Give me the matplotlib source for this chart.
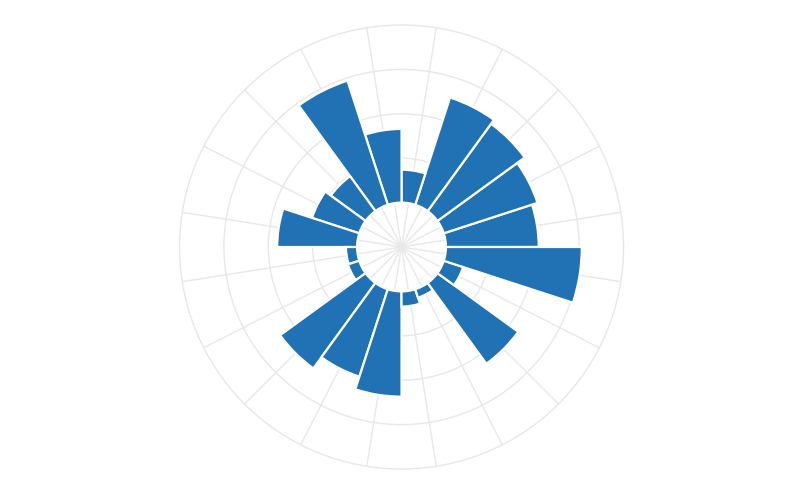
import numpy as np
import matplotlib
matplotlib.use("Agg")
import matplotlib.pyplot as plt

# 20 sectors, counter-clockwise from east
sectors = [f"S{i+1}" for i in range(20)]
values = [20.9, 22.2, 24.3, 25.4, 7.4, 16.6, 29.4, 9.7, 11.2, 18.0,
          2.5, 2.7, 23.8, 20.7, 23.7, 3.4, 2.0, 22.5, 4.6, 30.6]
hole = 10.0
rmax = 50.0
ring_ticks = [20, 30, 40]

n = len(sectors)
step = 2 * np.pi / n
theta = step / 2 + step * np.arange(n)

fig = plt.figure(figsize=(8, 4.98), dpi=100)
ax = fig.add_axes([0.2244, 0.0582, 0.555, 0.8916], projection="polar")
ax.bar(theta, values, width=step, bottom=hole, color="#2171b5",
       edgecolor="white", linewidth=1.6, zorder=3)
ax.set_ylim(0, rmax)
ax.set_thetagrids(np.degrees(theta), labels=[""] * n)
ax.set_rgrids(ring_ticks, labels=[""] * len(ring_ticks))
ax.grid(True, color="#e8e8e8", linewidth=1.0)
ax.set_axisbelow(True)
ax.spines["polar"].set_color("#e8e8e8")
ax.spines["polar"].set_linewidth(1.0)
ax.tick_params(length=0)
fig.savefig("out.png", dpi=100, facecolor="white")
